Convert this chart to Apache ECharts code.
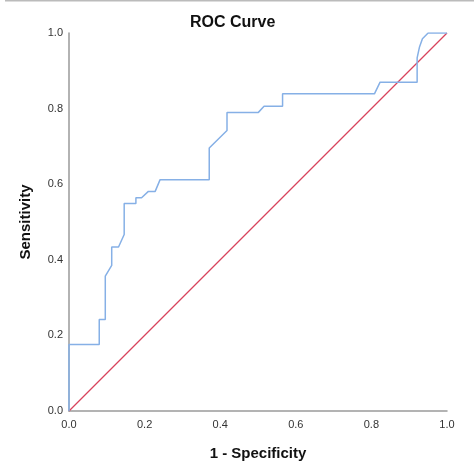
<!doctype html>
<html>
<head>
	<meta charset="utf-8">
	<script src="https://cdn.jsdelivr.net/npm/echarts@6/dist/echarts.min.js"></script>
	<style>
		html, body { margin: 0; padding: 0; background: #fff; }
		#chart { width: 474px; height: 466px; }
	</style>
</head>
<body>
	<div id="chart"></div>
<script type="text/javascript">
	// ROC curve points
	var fpr = [0, 0, 0.080, 0.080, 0.096, 0.096, 0.113, 0.113, 0.131, 0.146, 0.146, 0.177, 0.177, 0.192, 0.210, 0.228, 0.241,
		0.371, 0.371, 0.418, 0.418, 0.501, 0.516, 0.565, 0.565, 0.808, 0.823, 0.921, 0.921, 0.927, 0.935, 0.950, 1.0];
	var sens = [0, 0.176, 0.176, 0.242, 0.242, 0.357, 0.385, 0.434, 0.434, 0.467, 0.549, 0.549, 0.564, 0.564, 0.581, 0.581, 0.612,
		0.612, 0.696, 0.742, 0.790, 0.790, 0.806, 0.806, 0.839, 0.839, 0.870, 0.870, 0.934, 0.962, 0.985, 1.0, 1.0];
	var refLine = [[0, 0], [1, 1]];
	var ticks = [0, 0.2, 0.4, 0.6, 0.8, 1.0];

	var curve = fpr.map(function(v, i) { return [v, sens[i]]; });

	var myChart = echarts.init(document.getElementById('chart'));
	var axisCommon = {
		type: 'value',
		min: ticks[0],
		max: ticks[ticks.length - 1],
		interval: 0.2,
		axisLine: { show: true, lineStyle: { color: '#9a9a9a', width: 1.5 } },
		axisTick: { show: false },
		splitLine: { show: false },
		axisLabel: {
			color: '#333',
			fontSize: 11,
			fontFamily: 'Liberation Sans, Arial, sans-serif',
			formatter: function(v) { return v.toFixed(1); }
		},
		nameLocation: 'middle',
		nameTextStyle: {
			color: '#111',
			fontSize: 15,
			fontWeight: 'bold',
			fontFamily: 'Liberation Sans, Arial, sans-serif'
		}
	};
	var option = {
		backgroundColor: '#fff',
		animation: false,
		title: {
			text: 'ROC Curve',
			left: 185,
			top: 10,
			textStyle: {
				color: '#111',
				fontSize: 16,
				fontWeight: 'bold',
				fontFamily: 'Liberation Sans, Arial, sans-serif'
			}
		},
		graphic: [{
			type: 'rect',
			shape: { x: 5, y: 0, width: 469, height: 1.5 },
			style: { fill: '#bbb' }
		}],
		grid: { left: 69, right: 27, top: 33, bottom: 54 },
		xAxis: echarts.util.merge({
			name: '1 - Specificity',
			nameGap: 35,
			axisLabel: { margin: 8 }
		}, axisCommon),
		yAxis: echarts.util.merge({
			name: 'Sensitivity',
			nameGap: 36,
			axisLabel: { margin: 6, padding: [4, 0, 0, 0] }
		}, axisCommon),
		series: [
			{
				type: 'line',
				data: refLine,
				symbol: 'none',
				lineStyle: { color: '#d8435c', width: 1.3 },
				z: 2
			},
			{
				type: 'line',
				data: curve,
				symbol: 'none',
				lineStyle: { color: '#86b0e6', width: 1.5 },
				z: 3
			}
		]
	};
	myChart.setOption(option);
</script>
</body>
</html>
